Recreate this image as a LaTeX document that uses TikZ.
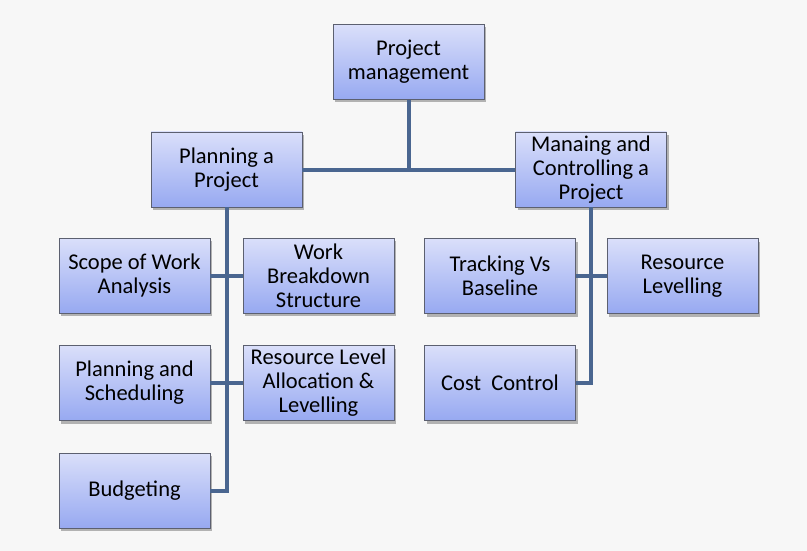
\documentclass[tikz,border=0pt]{standalone}
\usepackage{fontspec}
\setmainfont{Carlito}
\usetikzlibrary{shadows}
\definecolor{bgc}{HTML}{F7F7F7}
\definecolor{boxtop}{HTML}{DADFFA}
\definecolor{boxbot}{HTML}{97A9F1}
\definecolor{boxedge}{HTML}{5C6070}
\definecolor{linkc}{HTML}{4A6690}
\begin{document}
\begin{tikzpicture}[x=1pt,y=-1pt,
  box/.style={rectangle, draw=boxedge, line width=0.8pt, top color=boxtop, bottom color=boxbot,
    minimum width=151pt, minimum height=75pt, inner sep=0pt, align=center,
    font=\fontsize{22.5}{24}\selectfont,
    drop shadow={shadow xshift=2pt, shadow yshift=-3pt, opacity=0.4, fill=black!70}},
  link/.style={draw=linkc, line width=4pt}]
\fill[bgc] (0,0) rectangle (807,551);
\useasboundingbox (0,0) rectangle (807,551);
\node[box] (pm) at (408.5,62) {Project\\management};
\node[box] (plan) at (226.5,169.5) {Planning a\\Project};
\node[box] (mgmt) at (591,169.5) {Manaing and\\Controlling a\\Project};
\node[box] (scope) at (134.5,275.5) {Scope of Work\\Analysis};
\node[box] (wbs) at (318.5,275.5) {Work\\Breakdown\\Structure};
\node[box] (ps) at (134.5,383) {Planning and\\Scheduling};
\node[box] (rla) at (318.5,383) {Resource Level\\Allocation \&\\Levelling};
\node[box] (bud) at (134.5,490.5) {Budgeting};
\node[box] (track) at (500,276) {Tracking Vs\\Baseline};
\node[box] (resl) at (682.5,276) {Resource\\Levelling};
\node[box] (cost) at (500,383) {Cost\ \ Control};
\path[link] (pm.south) -- (pm.south |- plan.east);
\path[link] (plan.east) -- (mgmt.west);
\path[link] (plan.south) |- (bud.east);
\path[link] (scope.east) -- (wbs.west);
\path[link] (ps.east) -- (rla.west);
\path[link] (mgmt.south) |- (cost.east);
\path[link] (track.east) -- (resl.west);
\end{tikzpicture}
\end{document}
